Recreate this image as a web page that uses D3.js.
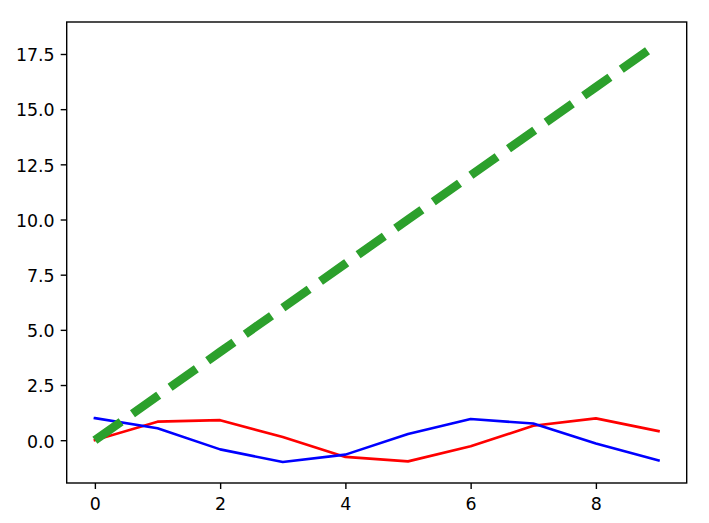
<!DOCTYPE html>
<html>
<head>
<meta charset="utf-8">
<script src="https://cdn.jsdelivr.net/npm/d3@7"></script>
<style>
  body { margin: 0; background: #fff; }
  svg { display: block; }
</style>
</head>
<body>
<script>
// values
const xs = [0, 1, 2, 3, 4, 5, 6, 7, 8, 9];
const redVals = [0, 0.841, 0.909, 0.141, -0.757, -0.959, -0.279, 0.657, 0.989, 0.412];
const blueVals = [1, 0.540, -0.416, -0.990, -0.654, 0.284, 0.960, 0.754, -0.146, -0.911];
const greenVals = [0, 2, 4, 6, 8, 10, 12, 14, 16, 18];
const xTicks = [0, 2, 4, 6, 8];
const yTicks = [0, 2.5, 5, 7.5, 10, 12.5, 15, 17.5];

const W = 709, H = 523;
const margin = { top: 22, right: 22.3, bottom: 40, left: 66.7 };

const svg = d3.select('body').append('svg')
    .attr('width', W)
    .attr('height', H);

const x = d3.scaleLinear().domain([-0.45, 9.45]).range([margin.left, W - margin.right]);
const y = d3.scaleLinear().domain([-1.9395, 18.9495]).range([H - margin.bottom, margin.top]);

const clip = svg.append('clipPath').attr('id', 'plotclip')
    .append('rect')
    .attr('x', margin.left).attr('y', margin.top)
    .attr('width', W - margin.left - margin.right)
    .attr('height', H - margin.top - margin.bottom);

const line = d3.line().x((d, i) => x(xs[i])).y(d => y(d));

const plot = svg.append('g').attr('clip-path', 'url(#plotclip)');

plot.append('path').datum(redVals)
    .attr('d', line).attr('fill', 'none')
    .attr('stroke', '#ff0000').attr('stroke-width', 2.6)
    .attr('stroke-linejoin', 'round').attr('stroke-linecap', 'square');

plot.append('path').datum(blueVals)
    .attr('d', line).attr('fill', 'none')
    .attr('stroke', '#0000ff').attr('stroke-width', 2.6)
    .attr('stroke-linejoin', 'round').attr('stroke-linecap', 'square');

plot.append('path').datum(greenVals)
    .attr('d', line).attr('fill', 'none')
    .attr('stroke', '#2ca02c').attr('stroke-width', 8.7)
    .attr('stroke-dasharray', '32.1,13.9')
    .attr('stroke-linecap', 'butt');

// axes
const xAxis = d3.axisBottom(x).tickValues(xTicks).tickSize(6).tickPadding(6)
    .tickFormat(d3.format('d'));
const yAxis = d3.axisLeft(y).tickValues(yTicks).tickSize(6).tickPadding(6)
    .tickFormat(d3.format('.1f'));

const gx = svg.append('g')
    .attr('transform', `translate(0,${H - margin.bottom})`)
    .call(xAxis);
const gy = svg.append('g')
    .attr('transform', `translate(${margin.left},0)`)
    .call(yAxis);

[gx, gy].forEach(g => {
    g.select('.domain').remove();
    g.selectAll('.tick line').attr('stroke', '#000').attr('stroke-width', 1.4);
    g.selectAll('.tick text')
        .style('font-family', '"DejaVu Sans", sans-serif')
        .style('font-size', '17.4px')
        .attr('fill', '#000');
});
gx.selectAll('.tick text').attr('dy', null).attr('y', 26.5);
gy.selectAll('.tick text').attr('dy', null).attr('y', 6.8);

// frame
svg.append('rect')
    .attr('x', margin.left).attr('y', margin.top)
    .attr('width', W - margin.left - margin.right)
    .attr('height', H - margin.top - margin.bottom)
    .attr('fill', 'none').attr('stroke', '#000').attr('stroke-width', 1.4);
</script>
</body>
</html>
